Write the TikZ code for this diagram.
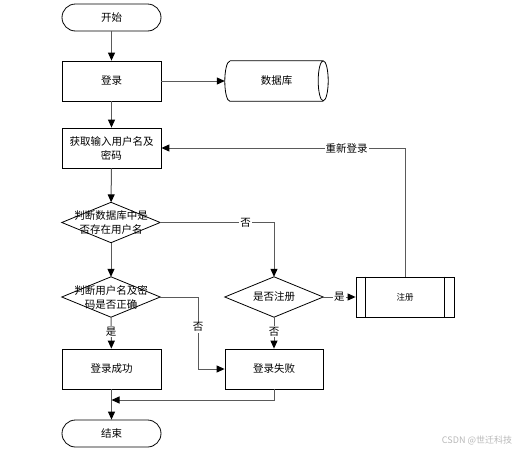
\documentclass[tikz,border=0pt]{standalone}
\usepackage{fontspec}
\setmainfont{Noto Sans CJK SC}
\usetikzlibrary{arrows.meta}
\definecolor{linec}{HTML}{5A5A5A}
\tikzset{
  box/.style={draw=black, line width=0.8pt, minimum width=99pt, minimum height=40pt, inner sep=0pt, align=center, font=\fontsize{10.5}{14}\selectfont},
  term/.style={box, minimum height=27pt, rounded corners=13.5pt},
  ghost/.style={draw=none, minimum width=98pt, minimum height=40pt, inner sep=0pt, align=center, font=\fontsize{10.5}{14}\selectfont},
  conn/.style={draw=linec, line width=1pt, -{Triangle[length=8pt,width=7pt,fill=black,color=black]}},
  plain/.style={draw=linec, line width=1pt},
  lab/.style={fill=white, inner sep=1pt, font=\fontsize{10.5}{12}\selectfont},
}
\begin{document}
\begin{tikzpicture}[x=1pt, y=-1pt]
\useasboundingbox (0,0) rectangle (520,453);
% nodes
\node[term] (start) at (111.5,17.5) {开始};
\node[box] (login) at (111.5,81) {登录};
\node[ghost, minimum width=103pt] (db) at (276.5,81) {数据库};
\node[box] (get) at (111.5,148) {获取输入用户名及\\密码};
\node[ghost] (d1) at (111,222.5) {判断数据库中是\\否存在用户名};
\node[ghost] (d2) at (111,297) {判断用户名及密\\码是否正确};
\node[ghost] (d3) at (274,297) {是否注册};
\node[box, minimum width=98pt, font=\fontsize{8.5}{10}\selectfont] (reg) at (405,297) {注册};
\node[box] (ok) at (111.5,369) {登录成功};
\node[box, minimum width=98pt] (fail) at (274,369) {登录失败};
\node[term] (end) at (111.5,433.5) {结束};
\node[text=black!28, font=\fontsize{9}{10}\selectfont, inner sep=0pt] (wm) at (477,440) {CSDN @世迁科技};
% shapes drawn by hand
\draw[line width=0.8pt] (d1.north) -- (d1.east) -- (d1.south) -- (d1.west) -- cycle;
\draw[line width=0.8pt] (d2.north) -- (d2.east) -- (d2.south) -- (d2.west) -- cycle;
\draw[line width=0.8pt] (d3.north) -- (d3.east) -- (d3.south) -- (d3.west) -- cycle;
\draw[line width=0.8pt] ([xshift=10pt]reg.north west) -- ([xshift=10pt]reg.south west);
\draw[line width=0.8pt] ([xshift=-10pt]reg.north east) -- ([xshift=-10pt]reg.south east);
% cylinder
\draw[line width=0.8pt] ([xshift=5pt]db.north west) -- ([xshift=-5pt]db.north east)
  arc[start angle=90, end angle=-270, x radius=5pt, y radius=20pt];
\draw[line width=0.8pt] ([xshift=-5pt]db.south east) -- ([xshift=5pt]db.south west)
  arc[start angle=270, end angle=90, x radius=5pt, y radius=20pt];
% connectors
\coordinate (c1) at (274,222.5);
\coordinate (c2a) at (198,297);
\coordinate (c2b) at (198,369);
\coordinate (c3) at (405,148);
\coordinate (c4) at (274,400);
\coordinate (j) at (111.5,400);
\draw[conn] (start) -- (login);
\draw[conn] (login) -- (db);
\draw[conn] (login) -- (get);
\draw[conn] (get) -- (d1);
\draw[conn] (d1.east) -- node[lab, pos=0.75] {否} (c1) -- (d3.north);
\draw[conn] (d1) -- (d2);
\draw[conn] (d2) -- node[lab, pos=0.45] {是} (ok);
\draw[conn] (d2.east) -- (c2a) -- node[lab, pos=0.42] {否} (c2b) -- (fail.west);
\draw[conn] (d3.east) -- node[lab, pos=0.5] {是} (reg.west);
\draw[conn] (d3) -- node[lab, pos=0.45] {否} (fail);
\draw[conn] (reg.north) -- (c3) -- node[lab, pos=0.24] {重新登录} (get.east);
\draw[conn] (ok) -- (end);
\draw[conn] (fail.south) -- (c4) -- (j);
\end{tikzpicture}
\end{document}
